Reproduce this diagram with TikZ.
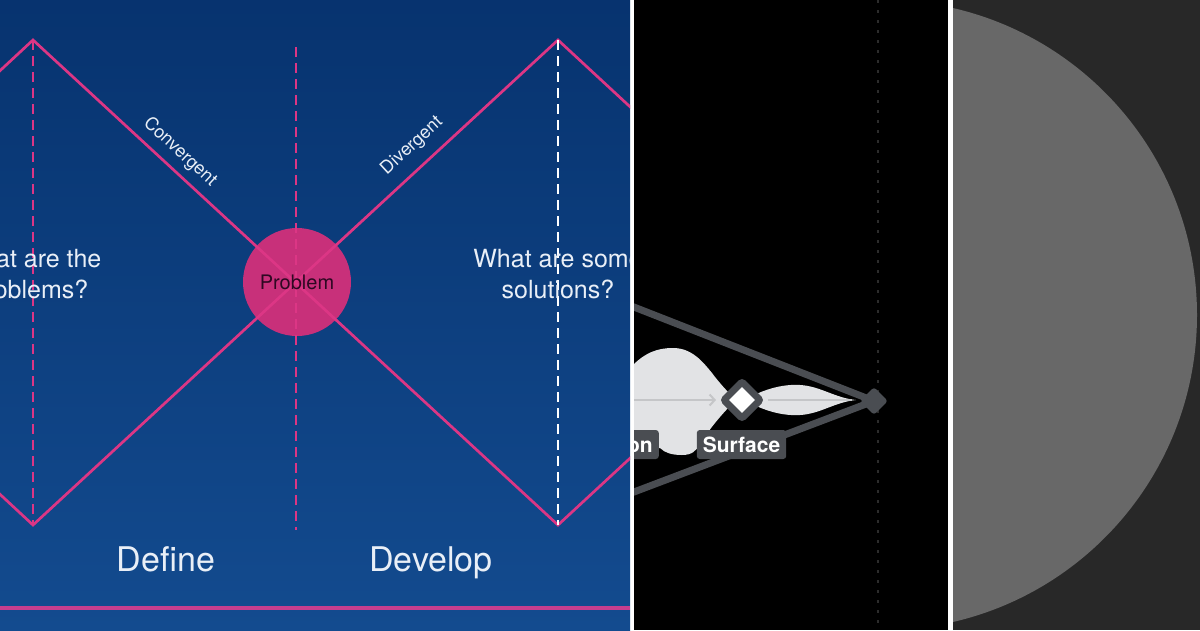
\documentclass[tikz,border=0pt]{standalone}
\usepackage{fontspec}
\setmainfont{TeX Gyre Heros}
\usetikzlibrary{shapes.geometric,arrows.meta}
\definecolor{bluetop}{HTML}{07336F}
\definecolor{bluebot}{HTML}{134B8F}
\definecolor{pinkline}{HTML}{DC3685}
\definecolor{pinkfill}{HTML}{C8307A}
\definecolor{pinkbar}{HTML}{C63E8E}
\definecolor{textlight}{HTML}{E9EFF7}
\definecolor{probtext}{HTML}{2E0822}
\definecolor{slate}{HTML}{4A4D52}
\definecolor{blobc}{HTML}{E2E3E5}
\definecolor{axisc}{HTML}{C5C6C8}
\definecolor{dotc}{HTML}{2C2C2C}
\definecolor{panelgray}{HTML}{282828}
\definecolor{circgray}{HTML}{686868}
\begin{document}
\begin{tikzpicture}[x=1pt,y=-1pt,
  pinkl/.style={draw=pinkline, line width=2.7pt},
  guide/.style={line width=1.5pt, dash pattern=on 10pt off 6pt},
  bigtext/.style={text=textlight, font=\fontsize{25}{31}\selectfont, align=center, inner sep=0pt},
  phase/.style={text=textlight, font=\fontsize{34}{40}\selectfont, inner sep=0pt},
  slopetext/.style={text=textlight, font=\fontsize{18}{21}\selectfont, inner sep=0pt},
  gline/.style={draw=slate, line width=7pt},
  tagbox/.style={fill=slate, text=white, font=\bfseries\fontsize{21}{24}\selectfont, rounded corners=3pt, text height=15pt, text depth=0pt, inner xsep=6pt, minimum height=29pt},
]
\useasboundingbox (0,0) rectangle (1200,630);
\fill[white] (0,0) rectangle (1200,630);

% ---------------- left panel ----------------
\begin{scope}
\clip (0,0) rectangle (630,630);
\shade[top color=bluetop, bottom color=bluebot] (0,0) rectangle (630,630);
\node[circle, fill=pinkfill, minimum size=108pt, inner sep=0pt] (prob) at (297,282) {};
\coordinate (ltop) at (33,40);
\coordinate (lbot) at (33,525);
\coordinate (rtop) at (558,40);
\coordinate (rbot) at (558,525);
\coordinate (lo1) at (-10,80);
\coordinate (lo2) at (-10,485);
\coordinate (ro1) at (640,116);
\coordinate (ro2) at (640,449);
\coordinate (mtop) at (296,47);
\coordinate (mbot) at (296,530);
\draw[pinkl] (lo1) -- (ltop) -- (rbot) -- (ro2);
\draw[pinkl] (lo2) -- (lbot) -- (rtop) -- (ro1);
\draw[guide, pinkline] (ltop) -- (lbot);
\draw[guide, pinkline] (mtop) -- (mbot);
\draw[guide, white] (rtop) -- (rbot);
\node[text=probtext, font=\fontsize{20}{24}\selectfont, inner sep=0pt, text depth=0pt] (probtxt) at (prob) {Problem};
\node[slopetext, rotate=-42.7] (conv) at (180,152) {Convergent};
\node[slopetext, rotate=42.7] (div) at (412,146) {Divergent};
\node[bigtext, anchor=north] (q1) at (30,249) {What are the\\problems?};
\node[bigtext, anchor=north] (q2) at (558,249) {What are some\\solutions?};
\node[phase, anchor=base] (def) at (166,571) {Define};
\node[phase, anchor=base] (dev) at (431,571) {Develop};
\coordinate (barl) at (0,608);
\coordinate (barr) at (630,608);
\draw[draw=pinkbar, line width=3.5pt] (barl) -- (barr);
\end{scope}

% ---------------- middle panel ----------------
\begin{scope}
\clip (634,0) rectangle (948,630);
\fill[black] (634,0) rectangle (948,630);
\coordinate (dtop) at (878,0);
\coordinate (dbot) at (878,630);
\draw[dotc, line width=2.5pt, dash pattern=on 3pt off 7pt] (dtop) -- (dbot);
\fill[blobc] (630,368) .. controls (645,352) and (658,348) .. (673,348)
  .. controls (692,348) and (703,362) .. (712,373)
  .. controls (718,381) and (724,388) .. (732,396) -- (732,404)
  .. controls (722,414) and (710,428) .. (700,444)
  .. controls (696,451) and (692,455) .. (682,455)
  .. controls (672,455) and (665,453) .. (660,448) -- (630,448) -- cycle;
\fill[blobc] (745,400) .. controls (765,388) and (785,384) .. (800,385)
  .. controls (820,386) and (835,398) .. (856,400)
  .. controls (835,402) and (820,414) .. (800,415)
  .. controls (785,416) and (765,412) .. (745,400) -- cycle;
\coordinate (axl) at (630,400);
\coordinate (axr) at (716,400);
\coordinate (lensl) at (768,400);
\coordinate (lensr) at (852,400);
\draw[axisc, line width=2pt, -{Straight Barb[length=5pt,width=11pt]}] (axl) -- (axr);
\draw[axisc, line width=1.5pt] (lensl) -- (lensr);
\node[diamond, fill=slate, minimum width=28pt, minimum height=28pt, inner sep=0pt, rounded corners=3pt] (endpt) at (874,401) {};
\coordinate (gu) at (630,305.5);
\coordinate (gd) at (630,493.5);
\draw[gline] (gu) -- (endpt.center);
\draw[gline] (gd) -- (endpt.center);
\node[diamond, draw=slate, fill=white, line width=7pt, minimum width=39pt, minimum height=39pt, inner sep=0pt, rounded corners=2pt] (surf) at (742,400) {};
\node[tagbox] (surftag) at (741.5,444.5) {Surface};
\node[tagbox, anchor=east] (ontag) at (659,444.5) {on};
\end{scope}

% ---------------- right panel ----------------
\begin{scope}
\clip (953,0) rectangle (1200,630);
\fill[panelgray] (953,0) rectangle (1200,630);
\fill[circgray] (882,315) circle[radius=315];
\end{scope}
\end{tikzpicture}
\end{document}
